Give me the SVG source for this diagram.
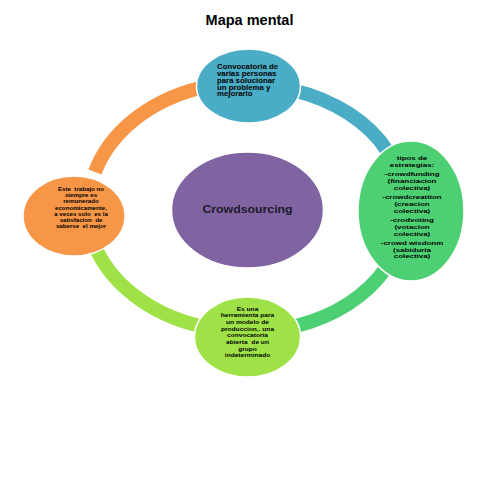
<svg xmlns="http://www.w3.org/2000/svg" width="495" height="495" viewBox="0 0 495 495">
<style>
.t{font-family:"Liberation Sans",Arial,sans-serif;font-weight:bold;fill:#000}
.c{text-anchor:middle}
.arc{fill:none;stroke-width:14}
.node{stroke:#fff;stroke-width:1.5}
</style>
<rect width="495" height="495" fill="#fff"/>
<text class="t c" x="249.5" y="25" font-size="14.5">Mapa mental</text>
<g id="connectors">
<path class="arc" stroke="#f79646" d="M 95 172 A 160 125 0 0 1 200 88"/>
<path class="arc" stroke="#4bacc6" d="M 292 90 A 158 118 0 0 1 388 152"/>
<path class="arc" stroke="#4dd073" d="M 386 268 A 158 118 0 0 1 296 326"/>
<path class="arc" stroke="#9fe247" d="M 200 326 A 160 125 0 0 1 94 244"/>
</g>
<g id="center">
<ellipse class="node" cx="247.5" cy="210" rx="76" ry="58" fill="#8064a2"/>
<g transform="translate(247.5,0) scale(1.12,1)"><text class="t c" x="0" y="212.7" font-size="11" style="fill:#1c1a2a">Crowdsourcing</text></g>
</g>
<g id="top">
<ellipse class="node" cx="248.5" cy="86" rx="52" ry="37" fill="#4bacc6"/>
<g transform="translate(217,0) scale(1.24,1)" class="t" font-size="6.3">
<text x="0" y="69.5">Convocatoria de</text>
<text x="0" y="76.2">varias personas</text>
<text x="0" y="82.9">para solucionar</text>
<text x="0" y="89.6">un problema y</text>
<text x="0" y="96.3">mejorarlo</text>
</g>
</g>
<g id="right">
<ellipse class="node" cx="411" cy="211" rx="53" ry="70" fill="#4dd073"/>
<g transform="translate(412,0) scale(1.3,1)" class="t c" font-size="6.1">
<text x="0" y="160.3">tipos de</text>
<text x="0" y="167">estrategias:</text>
<text x="0" y="176">-crowdfunding</text>
<text x="0" y="182.8">(financiacion</text>
<text x="0" y="189.6">colectiva)</text>
<text x="0" y="199.3">-crowdcreattion</text>
<text x="0" y="206">(creacion</text>
<text x="0" y="212.7">colectiva)</text>
<text x="0" y="222.3">-crodvoting</text>
<text x="0" y="229">(votacion</text>
<text x="0" y="235.7">colectiva)</text>
<text x="0" y="245">-crowd wisdonm</text>
<text x="0" y="251.7">(sabiduria</text>
<text x="0" y="258.4">colectiva)</text>
</g>
</g>
<g id="left">
<ellipse class="node" cx="74" cy="216" rx="51" ry="40" fill="#f79646"/>
<g transform="translate(81,0) scale(1.1,1)" class="t c" font-size="5.6">
<text x="0" y="190.7" xml:space="preserve">Este  trabajo no</text>
<text x="0" y="197">siempre es</text>
<text x="0" y="203.3">remunerado</text>
<text x="0" y="209.6">economicamente,</text>
<text x="0" y="215.9" xml:space="preserve">a veces solo  es la</text>
<text x="0" y="222.1" xml:space="preserve">satisfacion  de</text>
<text x="0" y="228.3" xml:space="preserve">saberse  el mejor</text>
</g>
</g>
<g id="bottom">
<ellipse class="node" cx="247.5" cy="337" rx="53" ry="40" fill="#9fe247"/>
<g transform="translate(247.5,0) scale(1.1,1)" class="t c" font-size="6">
<text x="0" y="310.7">Es una</text>
<text x="0" y="317.3">herramienta para</text>
<text x="0" y="324">un modelo de</text>
<text x="0" y="330.7">produccion,. una</text>
<text x="0" y="337.3">convocatoria</text>
<text x="0" y="344" xml:space="preserve">abierta  de un</text>
<text x="0" y="350.7">grupo</text>
<text x="0" y="357.5">indeterminado</text>
</g>
</g>
</svg>
